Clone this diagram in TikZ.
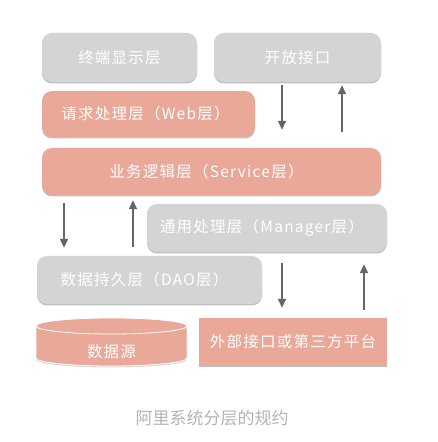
\documentclass[tikz,border=0pt]{standalone}
\usepackage{fontspec}
\setmainfont{Noto Sans CJK SC}
\newfontfamily\boxfont[LetterSpace=8]{Noto Sans CJK SC}
\newfontfamily\capfont{Noto Sans CJK SC}
\usetikzlibrary{arrows.meta,shadows,calc}
\definecolor{boxgray}{HTML}{D4D4D4}
\definecolor{salmon}{HTML}{E9A898}
\definecolor{arrgray}{HTML}{666666}
\definecolor{capgray}{HTML}{B4B4B4}
\tikzset{
  boxtext/.style={text=white, font=\boxfont\fontsize{15.5pt}{17pt}\selectfont, inner sep=0pt},
  layer/.style={rectangle, rounded corners=10pt, boxtext,
    drop shadow={shadow xshift=0pt, shadow yshift=-1.5pt, opacity=0.35, fill=black!70}},
  graylayer/.style={layer, fill=boxgray},
  salmonlayer/.style={layer, fill=salmon},
  flow/.style={draw=arrgray, line width=1.4pt, -{Triangle[width=8pt,length=9pt]}},
}
\begin{document}
\begin{tikzpicture}[x=1pt,y=1pt]
\useasboundingbox (0,0) rectangle (438,442);
\fill[white] (0,0) rectangle (438,442);

% layers
\node[graylayer, minimum width=155pt, minimum height=49pt] (term) at (119.5,384.5) {终端显示层};
\node[graylayer, minimum width=167pt, minimum height=49pt] (open) at (297.5,384.5) {开放接口};
\node[salmonlayer, minimum width=213pt, minimum height=46pt] (web) at (148.5,328) {请求处理层（Web层）\kern6pt};
\node[salmonlayer, minimum width=339pt, minimum height=47pt] (service) at (211.5,270.5) {业务逻辑层（Service层）\kern10pt};
\node[graylayer, minimum width=240pt, minimum height=48pt] (manager) at (267,214) {通用处理层（Manager层）\kern10pt};
\node[graylayer, minimum width=225pt, minimum height=48pt] (dao) at (149.5,162) {数据持久层（DAO层）\kern10pt};

% data source cylinder
\fill[black!60, opacity=0.25] (36,114.5) -- (36,82.5) arc[start angle=180, end angle=360, x radius=75.5, y radius=8] -- (187,114.5) -- cycle;
\fill[salmon] (36,116) -- (36,84) arc[start angle=180, end angle=360, x radius=75.5, y radius=8] -- (187,116) arc[start angle=0, end angle=180, x radius=75.5, y radius=8] -- cycle;
\draw[white, line width=0.8pt] (36,116) -- (36,84) arc[start angle=180, end angle=360, x radius=75.5, y radius=8] -- (187,116);
\draw[white, line width=0.8pt] (111.5,116) ellipse[x radius=75.5, y radius=8];
\node[boxtext] (ds) at (111.5,90) {数据源};

% external platform
\node[rectangle, fill=salmon, boxtext,
  minimum width=188pt, minimum height=48pt,
  drop shadow={shadow xshift=0pt, shadow yshift=-1.5pt, opacity=0.35, fill=black!70}] (ext) at (293,100) {外部接口或第三方平台};

% arrow columns
\coordinate (c1) at (282,0);
\coordinate (c2) at (342,0);
\coordinate (c3) at (64,0);
\coordinate (c4) at (133,0);
\coordinate (c5) at (364,0);

\draw[flow, shorten <=3pt, shorten >=18pt] (open.south -| c1) -- (service.north -| c1);
\draw[flow, shorten <=16pt, shorten >=3pt] (service.north -| c2) -- (open.south -| c2);
\draw[flow, shorten <=8pt, shorten >=8pt] (service.south -| c3) -- (dao.north -| c3);
\draw[flow, shorten <=9pt, shorten >=5pt] (dao.north -| c4) -- (service.south -| c4);
\draw[flow, shorten <=11pt, shorten >=10pt] (manager.south -| c1) -- (ext.north -| c1);
\draw[flow, shorten <=8pt, shorten >=12pt] (ext.north -| c5) -- (manager.south -| c5);

% caption
\node[text=capgray, font=\capfont\fontsize{17pt}{19pt}\selectfont, inner sep=0pt] (cap) at (212,24) {阿里系统分层的规约};
\end{tikzpicture}
\end{document}
